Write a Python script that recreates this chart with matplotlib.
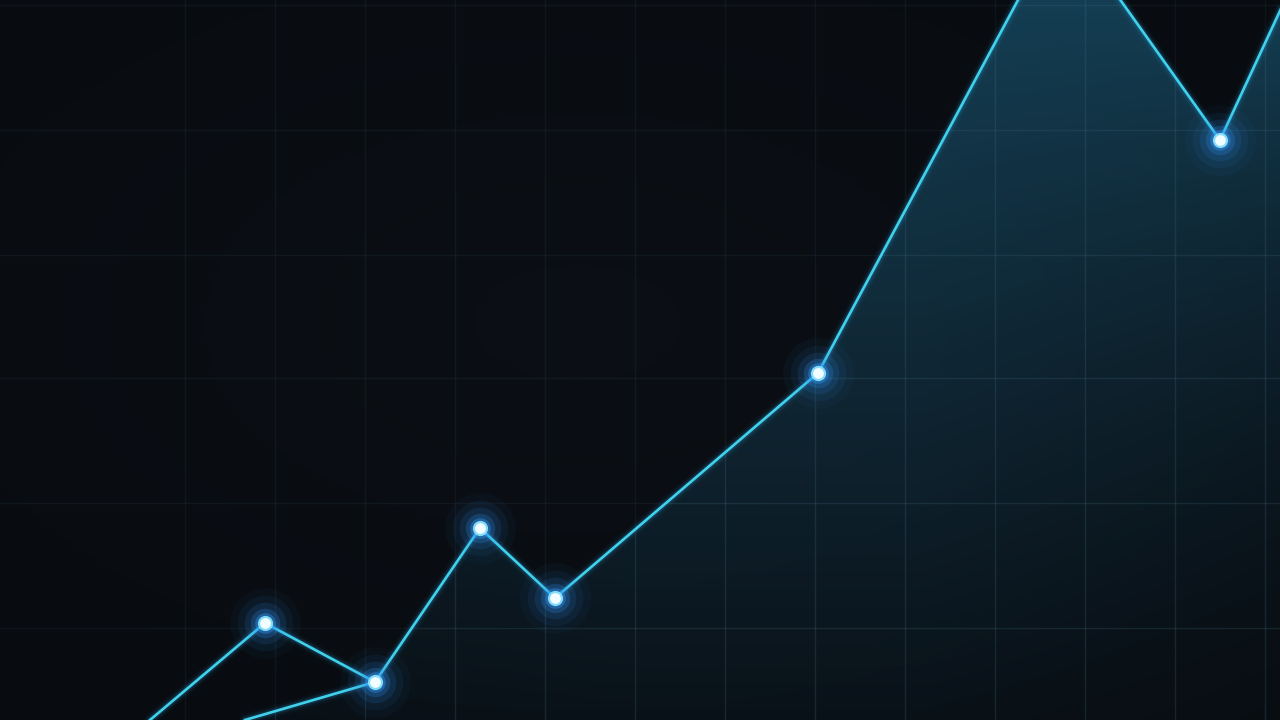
import numpy as np
import matplotlib
matplotlib.use("Agg")
import matplotlib.pyplot as plt
from matplotlib.patches import Polygon

# ---- data (chart units: x across 0..1280, y up 0..720) ----
main_x = [245, 375, 480, 555, 818, 1062, 1220, 1292]
main_y = [0, 38, 192, 122, 347, 802, 580, 735]
side_x = [150, 265, 375]
side_y = [0, 97, 38]
dot_x = [265, 375, 480, 555, 818, 1220]
dot_y = [97, 38, 192, 122, 347, 580]
grid_x = [185, 275, 365, 455, 545, 635, 725, 815, 905, 995, 1085, 1175, 1265]
grid_y = [92, 217, 342, 465, 590, 715]

BG = "#080b0f"
LINE = "#40d2ea"
GLOW = "#2aa6e8"

fig = plt.figure(figsize=(12.8, 7.2), dpi=100, facecolor=BG)
ax = fig.add_axes([0, 0, 1, 1], facecolor=BG)
ax.set_xlim(0, 1280)
ax.set_ylim(0, 720)

# background subtle vignette
H, W = 360, 640
yy, xx = np.mgrid[0:H, 0:W]
r = np.sqrt(((xx - W * 0.45) / W) ** 2 + ((yy - H * 0.55) / H) ** 2)
bg = np.zeros((H, W, 4))
bg[..., 0] = 12 / 255
bg[..., 1] = 16 / 255
bg[..., 2] = 23 / 255
bg[..., 3] = np.clip(0.85 - r * 1.2, 0, 1)
ax.imshow(bg, extent=[0, 1280, 0, 720], origin="lower", aspect="auto", zorder=0)

# grid
ax.set_xticks(grid_x)
ax.set_yticks(grid_y)
ax.tick_params(length=0, labelbottom=False, labelleft=False)
for s in ax.spines.values():
    s.set_visible(False)
ax.grid(True, color="#5a7d92", alpha=0.09, lw=1.0, zorder=1)
ax.set_axisbelow(True)

# gradient fill under main line
poly_x = main_x + [main_x[-1], main_x[0]]
poly_y = main_y + [-10, -10]
poly = Polygon(np.column_stack([poly_x, poly_y]), closed=True, fc="none", ec="none")
ax.add_patch(poly)
gy, gx = np.mgrid[0:H, 0:W]
fy = gy / (H - 1)  # 0 bottom -> 1 top
fx = gx / (W - 1)
alpha = 0.10 + 0.66 * fy ** 1.1
alpha *= np.clip(0.55 + 0.9 * fx, 0, 1)
alpha *= np.clip(1.0 - 0.6 * np.clip((fx - 0.72) / 0.28, 0, 1) * (1 - fy), 0, 1)
grad = np.zeros((H, W, 4))
grad[..., 0] = 24 / 255
grad[..., 1] = 78 / 255
grad[..., 2] = 104 / 255
grad[..., 3] = np.clip(alpha, 0, 1)
im = ax.imshow(grad, extent=[0, 1280, 0, 720], origin="lower", aspect="auto", zorder=2)
im.set_clip_path(poly)

# brighter grid inside the filled area
for gxv in grid_x:
    ln = ax.axvline(gxv, color="#6fa8c4", alpha=0.09, lw=1.0, zorder=2.5)
    ln.set_clip_path(poly)
for gyv in grid_y:
    ln = ax.axhline(gyv, color="#6fa8c4", alpha=0.08, lw=1.0, zorder=2.5)
    ln.set_clip_path(poly)

# glowing lines
for xs, ys in [(main_x, main_y), (side_x, side_y)]:
    for lw, a in [(9, 0.04), (6, 0.08), (4, 0.14)]:
        ax.plot(xs, ys, color=GLOW, lw=lw, alpha=a, solid_capstyle="round",
                solid_joinstyle="round", zorder=3)
    ax.plot(xs, ys, color=LINE, lw=1.9, solid_joinstyle="round", zorder=4)

# glowing dots
for s, a in [(2600, 0.04), (1600, 0.07), (900, 0.12), (450, 0.22), (220, 0.4)]:
    ax.scatter(dot_x, dot_y, s=s, color="#2f95f5", alpha=a, lw=0, zorder=5)
ax.scatter(dot_x, dot_y, s=120, color="#8fe8ff", alpha=0.9, lw=0, zorder=6)
ax.scatter(dot_x, dot_y, s=60, color="#f2fdff", lw=0, zorder=7)

fig.savefig("out.png", dpi=100, facecolor=BG)
